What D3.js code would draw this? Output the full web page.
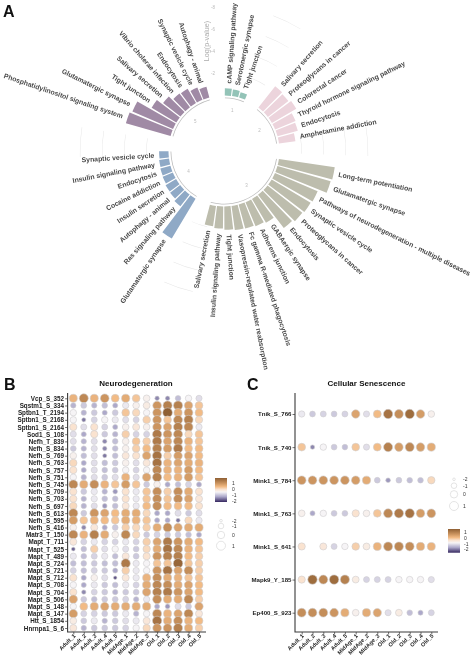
<!DOCTYPE html>
<html><head><meta charset="utf-8">
<script src="https://cdn.jsdelivr.net/npm/d3@7"></script>
<style>html,body{margin:0;padding:0;background:#fff}svg{display:block;filter:blur(.3px)}text{font-family:"Liberation Sans",Arial,sans-serif}</style>
</head><body><svg id="c" width="474" height="660"></svg>
<script>
// ---------- Panel A data ----------
const tealNames=["cAMP signaling pathway","Serotonergic synapse","Tight junction"];
const tealVals=[0.65,0.6,0.5];
const pinkNames=["Salivary secretion","Proteoglycans in cancer","Colorectal cancer","Thyroid hormone signaling pathway","Endocytosis","Amphetamine addiction"];
const pinkVals=[2.45,2.35,2.55,2.0,1.9,1.5];
const tanNames=["Long-term potentiation","Glutamatergic synapse","Pathways of neurodegeneration - multiple diseases","Synaptic vesicle cycle","Proteoglycans in cancer","Endocytosis","GABAergic synapse","Adherens junction","Fc gamma R-mediated phagocytosis","Vasopressin-regulated water reabsorption","Tight junction","Insulin signaling pathway","Salivary secretion"];
const tanVals=[5.1,5.0,4.2,4.1,4.0,3.8,2.5,2.35,2.25,2.2,2.1,2.0,1.85];
const blueNames=["Glutamatergic synapse","Ras signaling pathway","Autophagy - animal","Insulin secretion","Cocaine addiction","Endocytosis","Insulin signaling pathway","Synaptic vesicle cycle"];
const blueVals=[4.2,1.35,1.15,1.1,1.0,0.95,0.9,0.85];
const purpleNames=["Phosphatidylinositol signaling system","Glutamatergic synapse","Tight junction","Salivary secretion","Vibrio cholerae infection","Endocytosis","Synaptic vesicle cycle","Autophagy - animal"];
const purpleVals=[4.2,4.0,2.6,2.0,1.55,1.5,1.2,1.0];
const groupIds=["1","2","3","4","5"];
const groupColors=["#93c3b7","#ecd4dc","#bdbdad","#8fa9c6","#a08aa5"];
const gridTicks=[2,4,6,8];

// ---------- Panels B, C data ----------
const samples=["Adult_1","Adult_2","Adult_3","Adult_4","Adult_5","MidAge_1","MidAge_2","MidAge_3","Old_1","Old_2","Old_3","Old_4","Old_5"];
const neuroRows=["Vcp_S_352","Sqstm1_S_334","Sptbn1_T_2194","Sptbn1_S_2168","Sptbn1_S_2164","Sod1_S_108","Nefh_T_839","Nefh_S_834","Nefh_S_769","Nefh_S_763","Nefh_S_757","Nefh_S_751","Nefh_S_745","Nefh_S_709","Nefh_S_703","Nefh_S_697","Nefh_S_613","Nefh_S_595","Nefh_S_416","Matr3_T_150","Mapt_T_711","Mapt_T_525","Mapt_T_489","Mapt_S_724","Mapt_S_721","Mapt_S_712","Mapt_S_708","Mapt_S_704","Mapt_S_506","Mapt_S_148","Mapt_S_147","Htt_S_1854","Hnrnpa1_S_6"];
const neuroVals=[
[.4,1,.4,.8,.3,.5,.2,-.4,-1.4,-1.4,-1,-.5,-.7],
[-1.1,-.9,-1.1,-1,-1.2,-.6,-.4,-.3,.8,1.1,1.1,.6,.2],
[-.5,-1.1,-.9,-1.2,-.9,.2,0,-.5,.8,1.6,.5,.8,.3],
[-.5,-1.5,-.8,-.5,-.6,-.7,-.8,.1,.8,.2,1,1.1,0],
[-.1,-.7,-.1,-.8,-1.2,-.4,-.2,-.4,.8,.6,1.1,1,-.6],
[-.7,-1.2,-.1,-.9,-1.1,.1,-.8,-.8,1.2,.8,1,0,.2],
[-.7,-1.1,-.7,-1.4,-1,-.4,.2,.1,1.2,.6,1,.4,.2],
[-.9,-1.1,-.7,-1.4,-1,-.4,.1,.3,1.1,.7,1.2,.3,.3],
[-.4,-1,-.7,-1.5,-1,-.2,-.1,.6,1.3,.1,.7,.6,.3],
[0,-1.2,-.7,-1,-.9,-.4,-.7,-.2,1.3,.4,.6,.5,.4],
[-.1,-1.2,-.7,-1,-.9,-.5,-.8,-.5,1,.4,.4,.7,.3],
[-.5,-1.1,-.7,-.9,-.7,.4,-.7,.6,1.1,.3,.4,.7,.2],
[1,.5,.9,.4,.2,.7,.2,-.9,-.4,-1.2,-1,-.8,-1.2],
[-.1,-.9,-.6,-1.1,-1.3,-.1,-.6,.2,.9,.1,.9,.5,-.1],
[-.1,-1.1,-.6,-1,-1,-.1,-.6,.2,.9,.2,.9,.6,-.2],
[0,-1.1,-.7,-1.3,-1,-.2,-.6,.3,.9,.3,.3,.3,-.1],
[1,-.9,.8,.6,.3,.5,.5,0,-1.2,-1.2,-.7,-.9,-.7],
[.7,.2,.4,.3,.2,.5,.4,.2,-1.2,-1.2,-1.5,0,-.6],
[-.4,-1.4,-.2,-1.2,-.9,.1,0,.1,.5,.9,.6,.5,.5],
[1,.4,1.1,.5,-.4,1,0,-.9,-.8,-.9,-.9,-1,-1.2],
[-.2,-.8,-.6,-.8,-.8,-.6,-.8,.1,.6,1.2,.8,.5,.3],
[-1.6,-1,.1,-.7,-.5,-.7,-.9,0,.5,1.3,1,.4,.2],
[-.6,-1,-.8,-.6,-1,-.2,-.9,-.1,.8,1.1,1.1,.3,.1],
[-1,-1,-.9,-1,-1,1.2,-.6,-.5,.2,.2,1.5,.2,.1],
[-.8,-1,-.8,-.9,-1.2,.1,-.6,-.5,.8,1.3,.6,.9,.1],
[-.1,-1.2,-.4,-.7,-1.7,-.2,-.6,.4,.9,.5,.4,.2,.2],
[-.5,-1.2,-.6,-.9,-1,-.6,-.8,.5,1,.9,.5,.6,.3],
[-.1,-1.4,-.8,-.9,-1.1,-.9,-.9,.6,1.1,1.2,.8,.6,.3],
[.6,-.9,-1,-.9,-.9,-.8,-1.1,-.6,.9,.5,.5,1,.1],
[-.5,.3,.5,.6,.5,.5,.5,.5,-1.2,-1.3,-.7,-.9,.6],
[.7,-.8,-.8,-.9,-.9,-.6,-1.1,-.5,1,.4,.6,1,-.2],
[-.3,-.9,-.6,-1.1,-.9,-.7,-.6,-.2,1.3,.5,.9,.4,.3],
[-.2,-1.1,-.9,-.9,-.9,-.8,-.5,0,.8,.8,1.1,.5,.1]
];
const senRows=["Tnik_S_766","Tnik_S_740","Mink1_S_784","Mink1_S_763","Mink1_S_641","Mapk9_Y_185","Ep400_S_923"];
const senVals=[
[-.6,-.9,-.8,-.9,-.8,.6,-.7,.3,1.3,.9,1.4,.7,-.4],
[.2,-1.4,-.5,-.9,-1,.2,-.7,.3,1.1,.7,1,.7,.5],
[.8,.8,.8,.8,.8,.7,.5,-.9,-1.3,-.9,-1,-1,0],
[-.4,-1.2,-.5,-.9,-.9,-.1,-.4,.2,1,1.2,1.3,.7,.8],
[-.1,null,-.2,-.8,-.5,.1,-.3,.4,1,1,.9,.5,.4],
[-.1,1.4,1,1.4,1.1,-.3,-.8,-.8,-.8,-.5,-.5,-.5,-.7],
[.9,.9,.9,.8,.5,-.4,.5,.6,-.7,-.3,-1,-1.2,-.8]
];
const legendVals=[-2,-1,0,1];
const colorStops=[-2,-1.2,-.5,-.1,.3,.8,1.6];
const colorRange=["#35275f","#aca8ca","#f6f4f6","#fae3d0","#f2bb85","#cc9560","#8f5f33"];

const svg=d3.select("#c");
const color=d3.scaleLinear().domain(colorStops).range(colorRange).clamp(true);
const size=d3.scaleLinear().domain([-2,-1,0,1,1.6]).range([1.3,2.8,3.7,4.5,4.8]).clamp(true);

// ---------- Panel A ----------
const cx=224,cy=151;
const groups=[tealNames,pinkNames,tanNames,blueNames,purpleNames].map((n,i)=>({names:n,vals:[tealVals,pinkVals,tanVals,blueVals,purpleVals][i],id:groupIds[i],col:groupColors[i]}));
const gapSlots=2, deg=Math.PI/180;
const total=d3.sum(groups,g=>g.names.length)+groups.length*gapSlots;
const angle=d3.scaleLinear().domain([0,total]).range([4,364]);   // slot index -> degrees
const rad=d3.scaleLinear().domain([0,8]).range([55.5,144]);
const A=svg.append("g").attr("transform",`translate(${cx},${cy})`);
const halfBar=3.2;
const arcGen=d3.arc();
let slot=0;
groups.forEach((g,gi)=>{
  const a0=angle(slot), a1=angle(slot+g.names.length-1);
  A.append("path").attr("d",arcGen({innerRadius:52.7,outerRadius:53.5,startAngle:(a0-3)*deg,endAngle:(a1+3)*deg})).attr("fill","#bdbdbd");
  A.append("text").attr("x",41*Math.sin((a0+a1)/2*deg)).attr("y",-41*Math.cos((a0+a1)/2*deg)+1.5).attr("text-anchor","middle").attr("font-size",4.5).attr("fill","#bbb").text(g.id);
  if(gi<groups.length-1) gridTicks.forEach(t=>{
    A.append("path").attr("d",d3.arc()({innerRadius:rad(t)-.25,outerRadius:rad(t)+.25,startAngle:(a1+1)*deg,endAngle:(a1+13)*deg})).attr("fill","#e6e6e6");
  });
  g.names.forEach((name,i)=>{
    const a=angle(slot+i), v=g.vals[i], r=rad(v);
    A.append("path").attr("d",arcGen({innerRadius:rad(0),outerRadius:r,startAngle:(a-halfBar)*deg,endAngle:(a+halfBar)*deg})).attr("fill",g.col);
    const right=a%360<180, lr=r+5;
    A.append("text")
      .attr("transform",`rotate(${right?a-90:a+90}) translate(${right?lr:-lr},0)`)
      .attr("text-anchor",right?"start":"end").attr("dominant-baseline","central")
      .attr("font-size",6.9).attr("font-weight","bold").attr("fill","#4a4a4a").text(name);
  });
  slot+=g.names.length+gapSlots;
});
gridTicks.forEach(t=>{
  A.append("text").attr("x",-11).attr("y",-rad(t)+1.5).attr("text-anchor","middle").attr("font-size",4.5).attr("fill","#bbb").text(-t);
});
svg.append("text").attr("transform","translate(206.5,41) rotate(-90)").attr("text-anchor","middle").attr("dominant-baseline","central").attr("font-size",7.2).attr("fill","#aaa").text("Log(p-value)");

[["A",3,17],["B",4,390],["C",247,390]].forEach(d=>svg.append("text").attr("x",d[1]).attr("y",d[2]).attr("font-size",16).attr("font-weight","bold").attr("fill","#111").text(d[0]));

// ---------- Dot plots ----------
function dotPlot(o){
  const x=d3.scalePoint().domain(samples).range(o.xr);
  const y=d3.scalePoint().domain(o.rows).range(o.yr);
  const g=svg.append("g");
  g.append("text").attr("x",o.tx).attr("y",386).attr("text-anchor","middle").attr("font-size",8).attr("font-weight","bold").attr("fill","#111").text(o.title);
  const cells=[];
  o.vals.forEach((row,i)=>row.forEach((v,j)=>{if(v!==null)cells.push({r:o.rows[i],s:samples[j],v});}));
  g.selectAll("circle.d").data(cells).join("circle").attr("class","d")
    .attr("cx",d=>x(d.s)).attr("cy",d=>y(d.r)).attr("r",d=>size(d.v))
    .attr("fill",d=>color(d.v)).attr("stroke","#cfcccf").attr("stroke-width",.6);
  const yAxis=d3.axisLeft(y).tickSize(2.5).tickPadding(1);
  const ya=g.append("g").attr("transform",`translate(${o.ax},0)`).call(yAxis);
  ya.select(".domain").remove();
  ya.selectAll("line").attr("stroke","#333").attr("stroke-width",.7);
  ya.selectAll("text").attr("font-size",o.fs).attr("font-weight","bold").attr("fill","#222");
  const xAxis=d3.axisBottom(x).tickSize(2.5).tickPadding(1);
  const xa=g.append("g").attr("transform",`translate(0,${o.ay})`).call(xAxis);
  xa.select(".domain").remove();
  xa.selectAll("line").attr("stroke","#333").attr("stroke-width",.7);
  xa.selectAll("text").attr("font-size",5.6).attr("font-weight","bold").attr("fill","#222")
    .attr("text-anchor","end").attr("dx",1).attr("dy",2).attr("transform",function(){return `rotate(-45 0 ${+d3.select(this).attr("y")})`;});
  g.append("path").attr("d",`M${o.ax},393V${o.ay}H${o.xEnd}`).attr("fill","none").attr("stroke","#3a3a3a").attr("stroke-width",1.1);
  const id="grad"+o.title.length;
  const gr=svg.append("defs").append("linearGradient").attr("id",id).attr("x1",0).attr("x2",0).attr("y1",1).attr("y2",0);
  colorStops.forEach((s,i)=>gr.append("stop").attr("offset",(s+2)/3.6).attr("stop-color",colorRange[i]));
  g.append("rect").attr("x",o.cb[0]).attr("y",o.cb[1]).attr("width",12).attr("height",o.cb[2]).attr("fill",`url(#${id})`);
  legendVals.forEach((v,i)=>{
    g.append("text").attr("x",o.cb[0]+o.cbLab).attr("y",o.cbY[3-i]).attr("font-size",5).attr("fill","#333").attr("dominant-baseline","central").text(v);
    g.append("circle").attr("cx",o.sz[0]).attr("cy",o.sz[1][i]).attr("r",size(v)).attr("fill","#fff").attr("stroke","#d8d8d8").attr("stroke-width",.7);
    g.append("text").attr("x",o.sz[2]).attr("y",o.sz[1][i]).attr("font-size",5).attr("fill","#333").attr("dominant-baseline","central").text(v);
  });
}
dotPlot({title:"Neurodegeneration",tx:136,rows:neuroRows,vals:neuroVals,xr:[73.3,199],yr:[398.3,628],ax:67.6,ay:632,xEnd:206,fs:6.3,
  cb:[215,478,24],cbLab:17,cbY:[483.3,488.7,494.5,500.7],sz:[221,[520.7,526,535,545.7],232]});
dotPlot({title:"Cellular Senescence",tx:366.5,rows:senRows,vals:senVals,xr:[301.7,431.3],yr:[414,612.7],ax:295,ay:632,xEnd:438,fs:6.1,
  cb:[448,529,23.7],cbLab:16,cbY:[531.7,538,543.5,549],sz:[454,[479.3,485.7,494.3,506],463]});
</script></body></html>
